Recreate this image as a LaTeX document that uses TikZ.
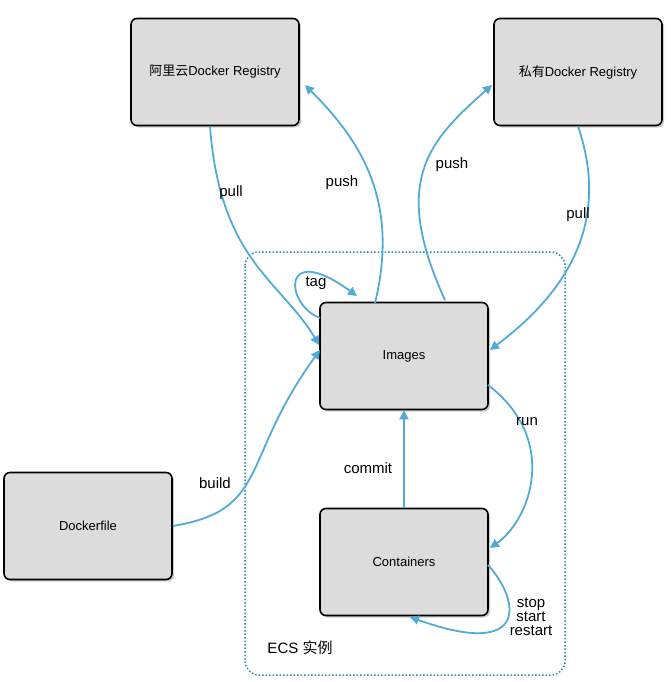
\documentclass[tikz,border=0pt]{standalone}
\usepackage{fontspec}
\setmainfont{Liberation Sans}
\newfontfamily\cjk{Noto Sans CJK SC}
\usetikzlibrary{arrows.meta,shadows}
\definecolor{arr}{RGB}{82,170,215}
\definecolor{boxg}{RGB}{220,220,220}
\definecolor{dashc}{RGB}{40,140,160}
\begin{document}
\begin{tikzpicture}[x=1pt,y=-1pt,
 box/.style={draw=black,line width=1.6pt,fill=boxg,rounded corners=6pt,minimum width=168pt,minimum height=107pt,drop shadow={shadow xshift=2pt,shadow yshift=-2pt,opacity=0.4},font=\fontsize{13}{15}\selectfont},
 a/.style={draw=arr,line width=1.8pt,-{Triangle[length=9pt,width=9pt]}},
 lb/.style={font=\fontsize{15}{17}\selectfont}]
\useasboundingbox (0,0) rectangle (670,682);
\draw[dashc,line width=1.5pt,dotted,rounded corners=14pt] (245,252) rectangle (565,675);
\node[box] (ali) at (215,72) {{\cjk 阿里云}Docker Registry};
\node[box] (pri) at (578,72) {{\cjk 私有}Docker Registry};
\node[box] (img) at (404,356) {Images};
\node[box] (con) at (404,562) {Containers};
\node[box] (df) at (88,526) {Dockerfile};
\coordinate (t1) at (320,318);
\draw[a] ([xshift=-5pt]ali.south) .. controls (220,260) and (280,280) .. (img.west|-0,345);
\draw[a] (375,303) .. controls (400,200) and (360,140) .. (305,85);
\draw[a] (445,300) .. controls (390,180) and (430,140) .. (492,85);
\draw[a] (pri.south) .. controls (610,220) and (570,290) .. (490,350);
\draw[a] (t1) .. controls (285,305) and (280,240) .. (357,296);
\draw[a] (df.east) .. controls (270,510) and (240,460) .. (320,350);
\draw[a] (con.north) -- (img.south);
\draw[a] (488,385) .. controls (560,440) and (530,520) .. (490,548);
\draw[a] (488,565) .. controls (520,600) and (530,660) .. (410,617);
\node[lb] (l1) at (231,193) {pull};
\node[lb] (l2) at (342,183) {push};
\node[lb] (l3) at (452,165) {push};
\node[lb] (l4) at (578,215) {pull};
\node[lb] (l5) at (316,283) {tag};
\node[lb] (l6) at (527,422) {run};
\node[lb] (l7) at (368,468) {commit};
\node[lb] (l8) at (215,483) {build};
\node[lb,align=center,inner sep=0pt] (l9) at (531,617) {stop\\[-3pt]start\\[-3pt]restart};
\node[lb] (l10) at (300,648) {ECS {\cjk 实例}};
\end{tikzpicture}
\end{document}
